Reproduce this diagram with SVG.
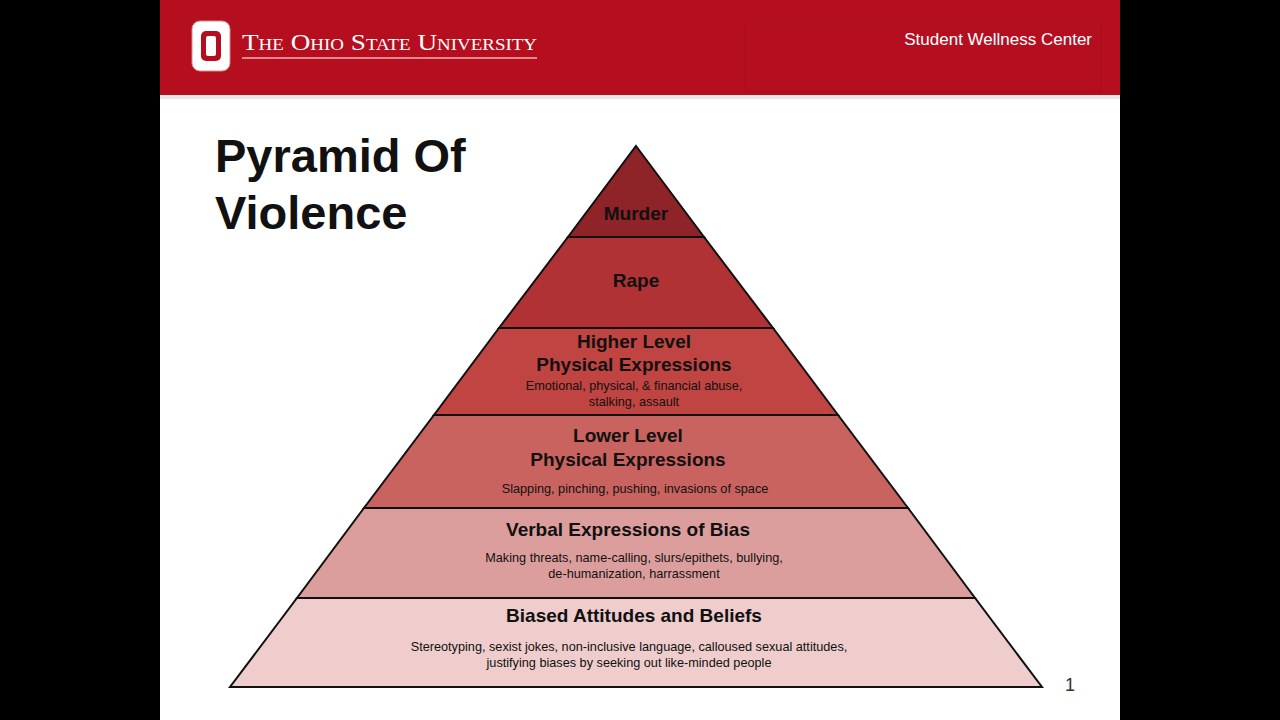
<svg xmlns="http://www.w3.org/2000/svg" width="1280" height="720" viewBox="0 0 1280 720">
<style>
.t{font-family:"Liberation Sans",Arial,sans-serif;fill:#111;text-anchor:middle}
.h{font-weight:bold;font-size:19px}
.s{font-size:12.7px}
.band{stroke:#111;stroke-width:2}
</style>
<rect width="1280" height="720" fill="#000"/>
<rect x="160" y="0" width="960" height="720" fill="#fff"/>
<rect x="160" y="0" width="960" height="95" fill="#b50f1f"/>
<rect x="160" y="95" width="960" height="4" fill="#e6e6e6"/>
<g id="logo">
<rect x="192" y="21" width="38" height="50" rx="8" fill="#fff" stroke="#d88" stroke-width="1"/>
<rect x="201" y="31" width="20" height="30" rx="5" fill="#b50f1f"/>
<rect x="206" y="36" width="10" height="20" rx="2" fill="#fff"/>
<text x="242" y="50" font-family="Liberation Serif,serif" font-size="23" fill="#fff" font-variant="small-caps" textLength="295" lengthAdjust="spacingAndGlyphs">The Ohio State University</text>
<line x1="242" y1="58" x2="537" y2="58" stroke="#f1b0b5" stroke-width="1.5"/>
</g>
<rect x="745" y="24" width="356" height="68" fill="none" stroke="#a50d1c" stroke-width="1"/>
<text x="1092" y="45" font-family="Liberation Sans,Arial,sans-serif" font-size="17" fill="#fff" text-anchor="end">Student Wellness Center</text>
<text x="215" y="172" font-family="Liberation Sans,Arial,sans-serif" font-size="47" font-weight="bold" fill="#111">Pyramid Of</text>
<text x="215" y="229" font-family="Liberation Sans,Arial,sans-serif" font-size="47" font-weight="bold" fill="#111">Violence</text>
<g id="pyramid">
<polygon id="murder" class="band" fill="#8e2328" points="636,146 704,237 568,237"/>
<polygon id="rape" class="band" fill="#b03234" points="568,237 704,237 773,328 499,328"/>
<polygon id="higher" class="band" fill="#c04442" points="499,328 773,328 838,415 434,415"/>
<polygon id="lower" class="band" fill="#c8635f" points="434,415 838,415 908,508 364,508"/>
<polygon id="verbal" class="band" fill="#dc9e9c" points="364,508 908,508 975,598 297,598"/>
<polygon id="biased" class="band" fill="#eecdcc" points="297,598 975,598 1042,687 230,687"/>
</g>
<g id="labels">
<text class="t h" x="636" y="220">Murder</text>
<text class="t h" x="636" y="287">Rape</text>
<text class="t h" x="634" y="348">Higher Level</text>
<text class="t h" x="634" y="371">Physical Expressions</text>
<text class="t s" x="634" y="390">Emotional, physical, &amp; financial abuse,</text>
<text class="t s" x="634" y="406">stalking, assault</text>
<text class="t h" x="628" y="442">Lower Level</text>
<text class="t h" x="628" y="466">Physical Expressions</text>
<text class="t s" x="635" y="493">Slapping, pinching, pushing, invasions of space</text>
<text class="t h" x="628" y="536">Verbal Expressions of Bias</text>
<text class="t s" x="634" y="562">Making threats, name-calling, slurs/epithets, bullying,</text>
<text class="t s" x="634" y="578">de-humanization, harrassment</text>
<text class="t h" x="634" y="622">Biased Attitudes and Beliefs</text>
<text class="t s" x="629" y="651">Stereotyping, sexist jokes, non-inclusive language, calloused sexual attitudes,</text>
<text class="t s" x="629" y="667">justifying biases by seeking out like-minded people</text>
</g>
<text x="1070" y="691" font-family="Liberation Sans,Arial,sans-serif" font-size="18" fill="#333" text-anchor="middle">1</text>
</svg>
